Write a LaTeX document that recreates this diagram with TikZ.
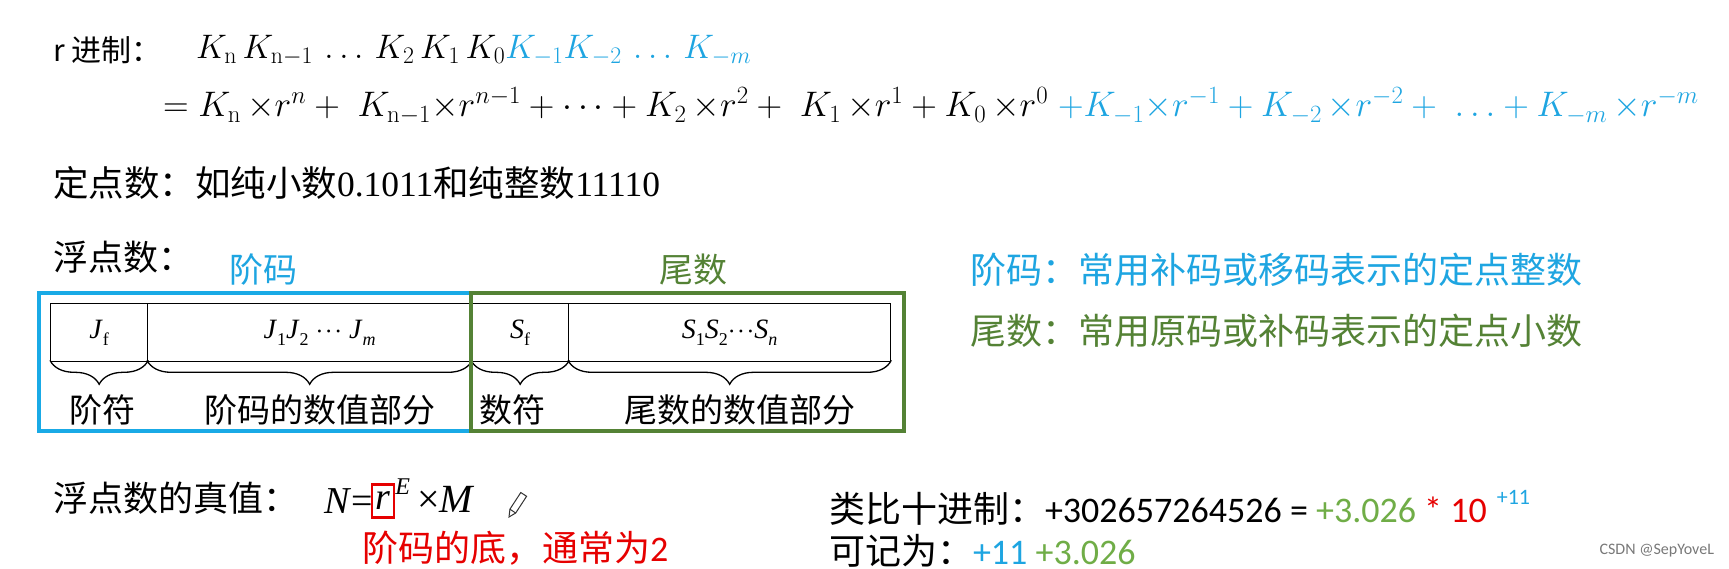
\RequirePackage{fix-cm}
\documentclass[tikz,border=0pt]{standalone}
\usepackage{fontspec}
\usetikzlibrary{decorations.pathreplacing}
\newfontfamily\cjk{Noto Sans CJK SC}
\newfontfamily\tnr{Liberation Serif}
\newfontfamily\calib{Carlito}
\newcommand\fsz[1]{\fontsize{#1}{#1}\selectfont}
\definecolor{myblue}{RGB}{30,165,225}
\definecolor{boxblue}{RGB}{25,170,230}
\definecolor{boxgreen}{RGB}{84,130,53}
\definecolor{lgreen}{RGB}{112,173,71}
\definecolor{myred}{RGB}{230,0,0}
\definecolor{wmgray}{RGB}{120,120,120}
\tikzset{
  txt/.style={inner sep=0pt, outer sep=0pt},
  field/.style={draw, line width=1.3pt, minimum height=58pt, inner sep=0pt, anchor=north west},
  brc/.style={decorate, decoration={brace, amplitude=24pt, aspect=0.5}, line width=1.3pt},
  bracelbl/.style={txt, font=\cjk\fsz{33}},
  fieldtxt/.style={font=\tnr\fsz{28}},
}
\begin{document}
\begin{tikzpicture}[x=1pt,y=-1pt]
\useasboundingbox (0,0) rectangle (1729,569);
% line 1
\node[txt, anchor=west] (r1) at (53,50) {\cjk\fsz{30}r 进制：};
\node[txt, anchor=west] (m1) at (196,50) {\fsz{34}$K_{\mathrm{n}}\,K_{\mathrm{n}-1}\,\ldots\,K_2\,K_1\,K_0{\color{myblue}K_{-1}K_{-2}\,\ldots\,K_{-m}}$};
% line 2
\node[txt, anchor=west] (m2) at (163,106) {\fsz{35.5}$=K_{\mathrm{n}}\,{\times}r^{n}+\;K_{\mathrm{n}-1}{\times}r^{n-1}+\cdots+K_2\,{\times}r^2+\;K_1\,{\times}r^1+K_0\,{\times}r^0\;{\color{myblue}+K_{-1}{\times}r^{-1}+K_{-2}\,{\times}r^{-2}+\;\ldots+K_{-m}\,{\times}r^{-m}}$};
% line 3
\node[txt, anchor=west] (fixed) at (53,183) {\cjk\fsz{35.5}定点数：如纯小数{\tnr 0.1011}和纯整数{\tnr 11110}};
\node[txt, anchor=west] (float) at (53,257) {\cjk\fsz{35}浮点数：};
% labels above boxes
\node[txt, text=myblue] (jmlbl) at (263,270) {\cjk\fsz{34}阶码};
\node[txt, text=boxgreen] (wslbl) at (693,270) {\cjk\fsz{34}尾数};
% right descriptions
\node[txt, anchor=west, text=myblue] (d1) at (970,270) {\cjk\fsz{36}阶码：常用补码或移码表示的定点整数};
\node[txt, anchor=west, text=boxgreen] (d2) at (970,331) {\cjk\fsz{36}尾数：常用原码或补码表示的定点小数};
% fields
\node[field, minimum width=97pt] (jf) at (50,303) {};
\node[field, minimum width=324pt] (jm) at (147,303) {};
\node[field, minimum width=97pt] (sf) at (471,303) {};
\node[field, minimum width=322pt] (sn) at (568,303) {};
\node[fieldtxt] at (jf.center) {\textit{J}\raisebox{-0.25em}{\fsz{18}f}};
\node[fieldtxt] at ([xshift=10pt]jm.center) {\textit{J}\raisebox{-0.25em}{\fsz{18}1}\textit{J}\raisebox{-0.25em}{\fsz{18}2} $\cdot\!\cdot\!\cdot$ \textit{J}\raisebox{-0.25em}{\fsz{18}\textit{m}}};
\node[fieldtxt] at (sf.center) {\textit{S}\raisebox{-0.25em}{\fsz{18}f}};
\node[fieldtxt] at (sn.center) {\textit{S}\raisebox{-0.25em}{\fsz{18}1}\textit{S}\raisebox{-0.25em}{\fsz{18}2}$\cdot\!\cdot\!\cdot$\textit{S}\raisebox{-0.25em}{\fsz{18}\textit{n}}};
% braces
\draw[brc] ([yshift=2pt]jf.south east) -- ([yshift=2pt]jf.south west);
\draw[brc] ([yshift=2pt]jm.south east) -- ([yshift=2pt]jm.south west);
\draw[brc] ([yshift=2pt]sf.south east) -- ([yshift=2pt]sf.south west);
\draw[brc] ([yshift=2pt]sn.south east) -- ([yshift=2pt]sn.south west);
\node[bracelbl] (l1) at (102,410) {阶符};
\node[bracelbl] (l2) at (320,410) {阶码的数值部分};
\node[bracelbl] (l3) at (512,410) {数符};
\node[bracelbl] (l4) at (740,410) {尾数的数值部分};
% outer boxes
\draw[boxblue, line width=4pt] (39,293) rectangle (471,431);
\draw[boxgreen, line width=3.5pt] (471,293) rectangle (904,431);
% true value
\node[txt, anchor=west] (tv) at (53,498) {\cjk\fsz{35}浮点数的真值：};
\node[draw=myred, line width=2.5pt, minimum width=22pt, minimum height=33pt, inner sep=0pt] (rbox) at (383,501) {\tnr\fsz{38}\textit{r}};
\node[txt, anchor=east] (neq) at ([xshift=2pt]rbox.west) {\tnr\fsz{38}\textit{N}=};
\node[txt, anchor=north west] (esup) at ([xshift=0pt,yshift=4pt]rbox.north east) {\tnr\fsz{24}\textit{E}};
\node[txt, anchor=west] (em) at ([xshift=22pt,yshift=2pt]rbox.east) {\tnr\fsz{40}×\textit{M}};
\node[txt, anchor=west, text=myred] (base) at (362,548) {\cjk\fsz{36}阶码的底，通常为{\calib 2}};
% pencil
\draw[line width=1pt, black!80] (509,517) -- (509.9,509.2) -- (520.8,492.5) -- (526.6,496.3) -- (515.7,513.0) -- cycle;
\draw[line width=1pt, black!80] (509.9,509.2) -- (515.7,513.0);
% decimal analogy
\node[txt, anchor=west] (an1) at (829,509) {\cjk\fsz{36}类比十进制：{\calib +302657264526 = \textcolor{lgreen}{+3.026} \textcolor{myred}{* 10}}};
\node[txt, anchor=west, text=myblue] (exp) at ([xshift=10pt,yshift=12pt]an1.east) {\calib\fsz{22}+11};
\node[txt, anchor=west] (an2) at (829,551) {\cjk\fsz{36}可记为：{\calib\textcolor{myblue}{+11} \textcolor{lgreen}{+3.026}}};
\node[txt, anchor=east, text=wmgray] (wm) at (1714,551) {\calib\fsz{16}CSDN @SepYoveL};
\end{tikzpicture}
\end{document}
